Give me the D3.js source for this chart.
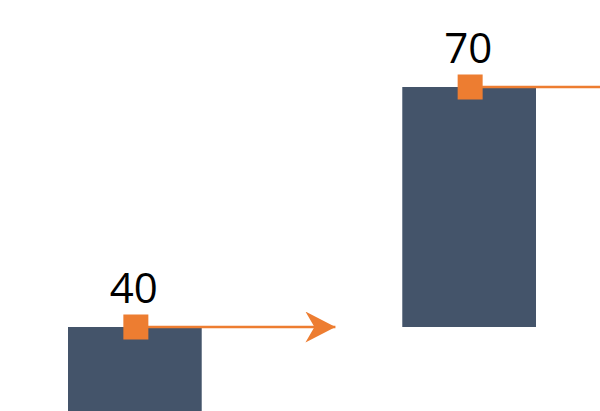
<!DOCTYPE html>
<html>
<head>
<meta charset="utf-8">
<script src="https://cdn.jsdelivr.net/npm/d3@7"></script>
<style>
  html, body { margin: 0; padding: 0; background: #fff; overflow: hidden; }
  svg { display: block; }
</style>
</head>
<body>
<svg id="chart"></svg>
<script>
// Chart data
const categories = ['Start', 'Change'];
const baseValues = [0, 40];
const endValues = [40, 70];
const labels = ['40', '70'];

const width = 600;
const height = 411;

const barColor = '#44546a';
const accent = '#ed7d31';

const svg = d3.select('#chart')
    .attr('width', width)
    .attr('height', height);

// Scales
const x = d3.scaleBand()
    .domain(categories)
    .range([68, 536])
    .paddingInner(0.6)
    .paddingOuter(0);

const y = d3.scaleLinear()
    .domain([0, 70])
    .range([647, 87]);

const rows = categories.map((c, i) => ({
    cat: c,
    base: baseValues[i],
    end: endValues[i],
    label: labels[i]
}));

// Bars (floating for the second one)
svg.append('g')
    .selectAll('rect')
    .data(rows)
    .enter()
    .append('rect')
    .attr('x', d => x(d.cat))
    .attr('y', d => y(d.end))
    .attr('width', x.bandwidth())
    .attr('height', d => y(d.base) - y(d.end))
    .attr('fill', barColor);

// Arrowhead marker
svg.append('defs')
    .append('marker')
    .attr('id', 'arrow')
    .attr('viewBox', '0 0 30 31')
    .attr('refX', 30)
    .attr('refY', 15.5)
    .attr('markerWidth', 30)
    .attr('markerHeight', 31)
    .attr('markerUnits', 'userSpaceOnUse')
    .attr('orient', 'auto')
    .append('path')
    .attr('d', 'M0,0 L30,15.5 L0,31 L9,15.5 Z')
    .attr('fill', accent);

// Orange connectors from each bar top
const cx = d => x(d.cat) + x.bandwidth() / 2;
const reach = x.step() * 0.6;

svg.append('g')
    .selectAll('line')
    .data(rows)
    .enter()
    .append('line')
    .attr('x1', d => cx(d))
    .attr('x2', d => cx(d) + reach)
    .attr('y1', d => y(d.end))
    .attr('y2', d => y(d.end))
    .attr('stroke', accent)
    .attr('stroke-width', 2.5)
    .attr('marker-end', 'url(#arrow)');

// Square markers
const sq = 25;
svg.append('g')
    .selectAll('rect')
    .data(rows)
    .enter()
    .append('rect')
    .attr('x', d => cx(d) + 1 - sq / 2)
    .attr('y', d => y(d.end) - sq / 2)
    .attr('width', sq)
    .attr('height', sq)
    .attr('fill', accent);

// Value labels
svg.append('g')
    .selectAll('text')
    .data(rows)
    .enter()
    .append('text')
    .attr('x', d => cx(d) - 1)
    .attr('y', d => y(d.end) - 24)
    .attr('text-anchor', 'middle')
    .attr('font-family', '"Open Sans", sans-serif')
    .attr('font-size', 42)
    .attr('fill', '#000')
    .text(d => d.label);
</script>
</body>
</html>
